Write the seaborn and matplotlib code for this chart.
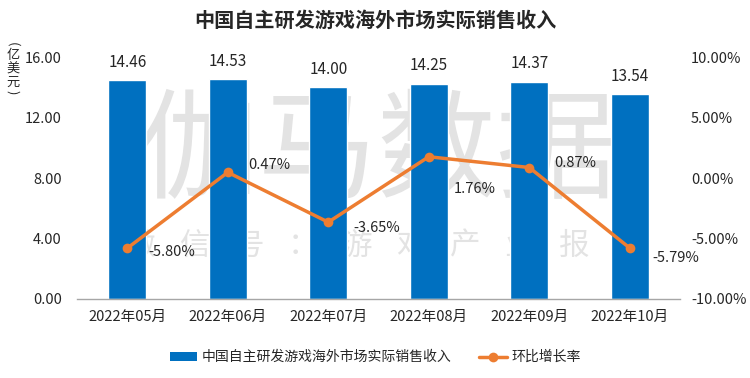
import matplotlib
matplotlib.use("Agg")
import matplotlib.pyplot as plt
import seaborn as sns
import pandas as pd

months = ["2022年05月", "2022年06月", "2022年07月", "2022年08月", "2022年09月", "2022年10月"]
revenue = [14.46, 14.53, 14.00, 14.25, 14.37, 13.54]
growth = [-5.80, 0.47, -3.65, 1.76, 0.87, -5.79]
left_ticks = [0, 4, 8, 12, 16]
right_ticks = [-10, -5, 0, 5, 10]
bar_name = "中国自主研发游戏海外市场实际销售收入"
line_name = "环比增长率"
title = "中国自主研发游戏海外市场实际销售收入"
watermark_big = "伽马数据"
watermark_small = "微信号：游戏产业报告"

# label offsets (points) for growth annotations
growth_offsets = [(15, -2.5), (15, 5), (18, -4), (18, -23), (18, 3), (16.5, -7)]

sns.set_theme(style="white")
plt.rcParams['font.family'] = ['Noto Sans CJK SC', 'DejaVu Sans']
plt.rcParams['axes.unicode_minus'] = False

BLUE = "#0070C0"
ORANGE = "#ED7D31"
TXT = "#262626"
WM = "#E3E3E3"

df = pd.DataFrame({"month": months, "revenue": revenue, "growth": growth})

fig = plt.figure(figsize=(7.5, 3.78), dpi=100)
ax = fig.add_axes([0.1027, 0.209, 0.804, 0.640])

sns.barplot(data=df, x="month", y="revenue", color=BLUE, width=0.38,
            saturation=1, ax=ax, zorder=2)
ax.set_ylim(0, 16)
ax.set_xlim(-0.5, 5.5)
ax.set_yticks(left_ticks)
ax.set_yticklabels([f"{v:.2f}" for v in left_ticks], fontsize=10.5, color=TXT)
ax.set_xlabel("")
ax.set_ylabel("")
ax.tick_params(axis="x", labelsize=10.5, colors=TXT, length=0, pad=8)
ax.tick_params(axis="y", length=0, pad=11)
for s in ["top", "right", "left"]:
    ax.spines[s].set_visible(False)
ax.spines["bottom"].set_color("#A6A6A6")
ax.spines["bottom"].set_linewidth(1)
ax.spines["bottom"].set_zorder(3)

for i, v in enumerate(revenue):
    ax.annotate(f"{v:.2f}", (i, v), xytext=(0, 7), textcoords="offset points",
                ha="center", va="bottom", fontsize=11, color=TXT)

# watermark (under the bars)
ax.text(0.503, 0.59, watermark_big, transform=fig.transFigure, fontsize=86,
        color=WM, ha="center", va="center", zorder=0.5)
n = len(watermark_small)
x0, x1 = 140 / 750, 628 / 750
for k, ch in enumerate(watermark_small):
    ax.text(x0 + (x1 - x0) * k / (n - 1), 1 - 246 / 378, ch,
            transform=fig.transFigure, fontsize=22, color=WM,
            ha="center", va="center", zorder=0.5)

ax2 = ax.twinx()
sns.lineplot(x=list(range(len(months))), y=growth, ax=ax2, color=ORANGE,
             linewidth=2.5, marker="o", markersize=7, markeredgewidth=0,
             label=line_name, legend=False)
ax2.set_ylim(-10, 10)
ax2.set_xlim(-0.5, 5.5)
ax2.set_yticks(right_ticks)
ax2.set_yticklabels([f"{v:.2f}%" for v in right_ticks], fontsize=10.5, color=TXT)
ax2.tick_params(axis="y", length=0, pad=8)
for s in ["top", "right", "left", "bottom"]:
    ax2.spines[s].set_visible(False)

for i, (v, off) in enumerate(zip(growth, growth_offsets)):
    ax2.annotate(f"{v:.2f}%", (i, v), xytext=off, textcoords="offset points",
                 ha="left", va="center", fontsize=10.5, color=TXT)

fig.text(0.5, 0.945, title, fontsize=14.5, fontweight="bold", color=TXT,
         ha="center", va="center")

# vertical unit label
fig.text(0.017, 1 - 44 / 378, "(", fontsize=9.5, color=TXT, rotation=-90,
         ha="center", va="center")
for k, ch in enumerate("亿美元"):
    fig.text(0.017, 1 - (56 + 13 * k) / 378, ch, fontsize=9.5, color=TXT,
             ha="center", va="center")
fig.text(0.017, 1 - 92 / 378, ")", fontsize=9.5, color=TXT, rotation=-90,
         ha="center", va="center")

from matplotlib.patches import Patch
h2, l2 = ax2.get_legend_handles_labels()
handles = [Patch(facecolor=BLUE, edgecolor="none")] + h2
labels = [bar_name] + l2
fig.legend(handles, labels, loc="center", bbox_to_anchor=(0.5, 0.055), ncol=2,
           frameon=False, fontsize=10, handlelength=2.0, handleheight=0.6,
           columnspacing=2.0, handletextpad=0.3)

fig.savefig("out.png", dpi=100)
